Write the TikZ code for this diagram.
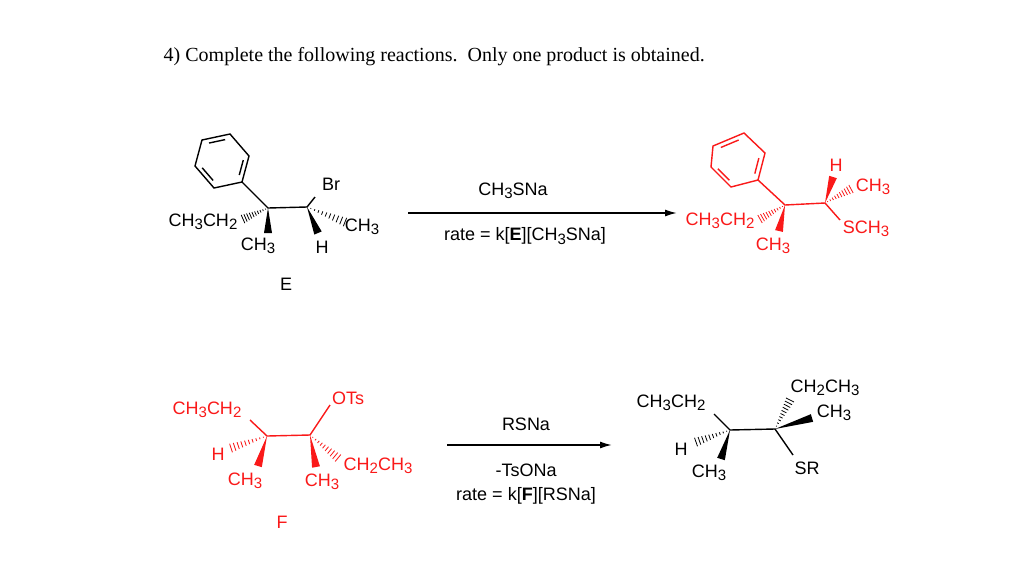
\documentclass[tikz,border=0pt]{standalone}
\usepackage{fontspec}
\setmainfont{Liberation Serif}
\setsansfont{Liberation Sans}
\usetikzlibrary{calc,arrows.meta}
\definecolor{rd}{RGB}{250,25,25}
\newcommand\sub[1]{\raisebox{-3.5pt}{\fontsize{15}{15}\selectfont #1}}
\newcommand\hb[2]{\foreach \t in {0.1,0.2,...,1.0}{\draw[line width=0.8pt] ($(#1)!\t!(#2)!{\t*4.5pt}!90:(#2)$) -- ($(#1)!\t!(#2)!{\t*4.5pt}!-90:(#2)$);}}
\newcommand\wb[2]{\fill (#1) -- ($(#2)!4pt!90:(#1)$) -- ($(#2)!4pt!-90:(#1)$) -- cycle;}
\newcommand\benz[6]{\draw (#1)--(#2)--(#3)--(#4)--(#5)--(#6)--cycle;
 \coordinate (bc) at ($(#1)!0.5!(#4)$);
 \draw ($(#1)!0.15!(#2)!0.18!(bc)$) -- ($(#2)!0.15!(#1)!0.18!(bc)$);
 \draw ($(#3)!0.15!(#4)!0.18!(bc)$) -- ($(#4)!0.15!(#3)!0.18!(bc)$);
 \draw ($(#5)!0.15!(#6)!0.18!(bc)$) -- ($(#6)!0.15!(#5)!0.18!(bc)$);}
\begin{document}
\begin{tikzpicture}[x=1pt,y=-1pt,line width=1.4pt,
  lab/.style={font=\sffamily\fontsize{18}{18}\selectfont,inner sep=0pt},
  rxn/.style={font=\sffamily\fontsize{18}{18}\selectfont,inner sep=0pt}]
\useasboundingbox[fill=white] (0,0) rectangle (1024,576);
\node[font=\fontsize{20}{20}\selectfont,anchor=west,inner sep=0pt] (title) at (163,57) {4)\ Complete the following reactions.\ \ Only one product is obtained.};
% ---------- E ----------
\coordinate (a1) at (202,140);\coordinate (a2) at (230,134);\coordinate (a3) at (249,156);
\coordinate (a4) at (242,182);\coordinate (a5) at (214,188);\coordinate (a6) at (195,166);
\benz{a1}{a2}{a3}{a4}{a5}{a6}
\coordinate (e1) at (268,208);\coordinate (e2) at (307,207);
\draw (a4)--(e1)--(e2)--(315,197);
\node[lab] (ebr) at (331,184) {Br};
\hb{e1}{243,219}\hb{e2}{345,222}
\wb{e1}{268,233}\wb{e2}{318,233}
\node[lab] (eet) at (203,222) {CH\sub{3}CH\sub{2}};
\node[lab] (eme) at (258,246) {CH\sub{3}};
\node[lab] (eme2) at (362,227) {CH\sub{3}};
\node[lab] (eh) at (322,247) {H};
\node[lab] (E) at (286,284) {E};
% ---------- arrow 1 ----------
\coordinate (r1s) at (408,213);\coordinate (r1e) at (677,213);
\draw[line width=1.6pt,-{Latex[length=12pt,width=7pt]}] (r1s)--(r1e);
\node[rxn] (r1a) at (513,191) {CH\sub{3}SNa};
\node[rxn] (r1b) at (525,236) {rate = k[\textbf{E}][CH\sub{3}SNa]};
% ---------- product 1 ----------
\begin{scope}[rd,draw=rd,fill=rd]
\coordinate (b1) at (713,146);\coordinate (b2) at (744,133);\coordinate (b3) at (765,153);
\coordinate (b4) at (758,180);\coordinate (b5) at (731,187);\coordinate (b6) at (711,167);
\benz{b1}{b2}{b3}{b4}{b5}{b6}
\coordinate (p1) at (785,205);\coordinate (p2) at (825,203);
\draw (b4)--(p1)--(p2)--(840,220);
\wb{p2}{833,177}\hb{p1}{760,219}\hb{p2}{851,189}\wb{p1}{779,231}
\node[lab,text=rd] (ph) at (836,165) {H};
\node[lab,text=rd] (pme) at (873,187) {CH\sub{3}};
\node[lab,text=rd] (psm) at (866,229) {SCH\sub{3}};
\node[lab,text=rd] (pet) at (720,221) {CH\sub{3}CH\sub{2}};
\node[lab,text=rd] (pme2) at (773,246) {CH\sub{3}};
% ---------- F ----------
\coordinate (f1) at (267,436);\coordinate (f2) at (310,435);
\draw (250,420)--(f1)--(f2)--(330,405);
\hb{f1}{231,448}\wb{f1}{258,466}\wb{f2}{316,467}\hb{f2}{338,458}
\node[lab,text=rd] (fet) at (207,410) {CH\sub{3}CH\sub{2}};
\node[lab,text=rd] (fh) at (218,454) {H};
\node[lab,text=rd] (fme) at (245,481) {CH\sub{3}};
\node[lab,text=rd] (fots) at (348,398) {OTs};
\node[lab,text=rd] (fme2) at (322,482) {CH\sub{3}};
\node[lab,text=rd] (fet2) at (378,466) {CH\sub{2}CH\sub{3}};
\node[lab,text=rd] (F) at (282,522) {F};
\end{scope}
% ---------- arrow 2 ----------
\coordinate (r2s) at (447,445);\coordinate (r2e) at (612,445);
\draw[line width=1.6pt,-{Latex[length=12pt,width=7pt]}] (r2s)--(r2e);
\node[rxn] (r2a) at (526,424) {RSNa};
\node[rxn] (r2b) at (526,470) {-TsONa};
\node[rxn] (r2c) at (526,496) {rate = k[\textbf{F}][RSNa]};
% ---------- product 2 ----------
\coordinate (q1) at (730,430);\coordinate (q2) at (775,429);
\draw (714,414)--(q1)--(q2)--(793,455);
\hb{q1}{696,442}\wb{q1}{721,459}\hb{q2}{790,400}\wb{q2}{812,418}
\node[lab] (qet) at (671,403) {CH\sub{3}CH\sub{2}};
\node[lab] (qh) at (681,449) {H};
\node[lab] (qme) at (709,473) {CH\sub{3}};
\node[lab] (qet2) at (825,388) {CH\sub{2}CH\sub{3}};
\node[lab] (qme2) at (834,413) {CH\sub{3}};
\node[lab] (qsr) at (807,468) {SR};
\end{tikzpicture}
\end{document}
